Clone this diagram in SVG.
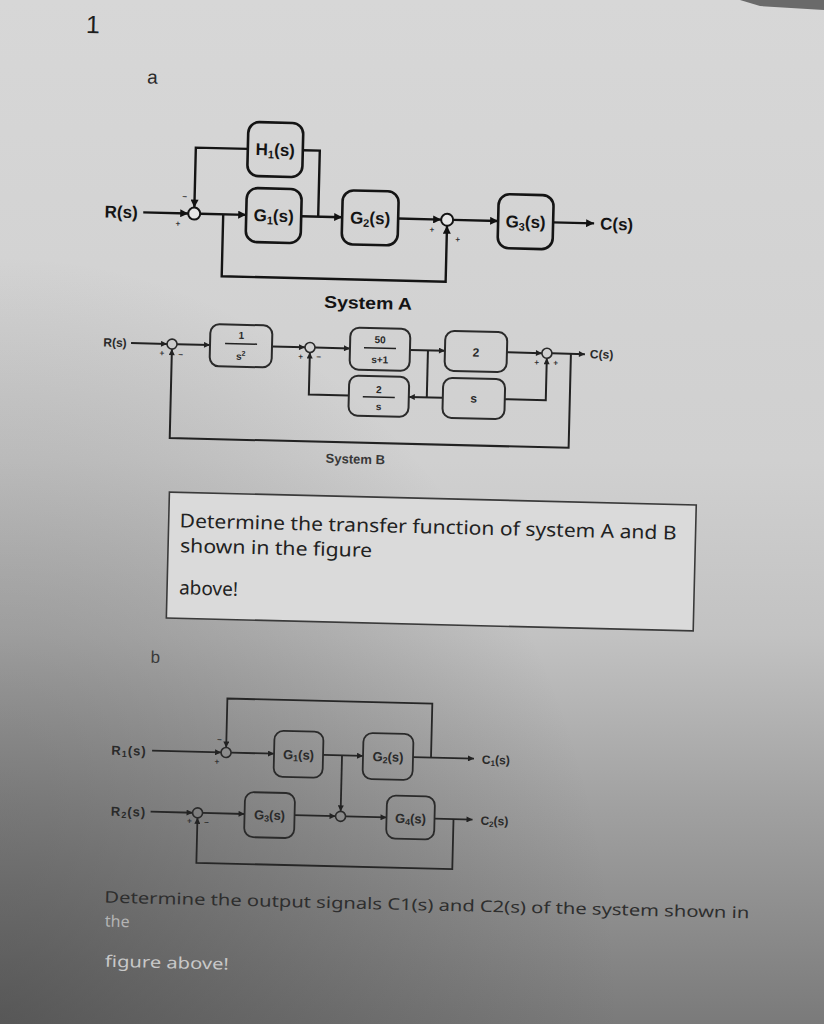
<svg xmlns="http://www.w3.org/2000/svg" width="824" height="1024" viewBox="0 0 824 1024">
<defs>
<linearGradient id="bg" x1="0" y1="0" x2="0" y2="1">
<stop offset="0" stop-color="#d7d7d7"/>
<stop offset="0.45" stop-color="#d0d0d0"/>
<stop offset="0.62" stop-color="#c2c2c2"/>
<stop offset="0.78" stop-color="#a2a2a2"/>
<stop offset="1" stop-color="#7a7a7a"/>
</linearGradient>
<radialGradient id="shade" cx="0" cy="1" r="0.75">
<stop offset="0" stop-color="#3a3a3a" stop-opacity="0.55"/>
<stop offset="1" stop-color="#3a3a3a" stop-opacity="0"/>
</radialGradient>
<marker id="ah" viewBox="0 0 10 10" refX="10" refY="5" markerWidth="9" markerHeight="8" markerUnits="userSpaceOnUse" orient="auto"><path d="M0,0 L10,5 L0,10 z" fill="#111"/></marker>
<marker id="ahs" viewBox="0 0 10 10" refX="10" refY="5" markerWidth="7" markerHeight="6" markerUnits="userSpaceOnUse" orient="auto"><path d="M0,0 L10,5 L0,10 z" fill="#222"/></marker>
<style>
.blkA{fill:none;stroke:#141414;stroke-width:2.6}
.blkB{fill:none;stroke:#2a2a2a;stroke-width:2}
.blkb{fill:none;stroke:#2a2a2a;stroke-width:1.8}
.sum{fill:#e6e6e6;stroke:#141414;stroke-width:2}
.sumb{fill:none;stroke:#2a2a2a;stroke-width:1.6}
.lnA{fill:none;stroke:#141414;stroke-width:2.4}
.lnB{fill:none;stroke:#222;stroke-width:2}
.lnb{fill:none;stroke:#262626;stroke-width:1.8}
.tA{font-family:"Liberation Sans",Arial,sans-serif;font-weight:bold;font-size:17px;fill:#141414}
.tB{font-family:"Liberation Sans",Arial,sans-serif;font-weight:bold;font-size:12px;fill:#2a2a2a}
.fr{font-family:"Liberation Sans",Arial,sans-serif;font-weight:bold;font-size:10px;fill:#2a2a2a}
.tb{font-family:"Liberation Sans",Arial,sans-serif;font-weight:bold;font-size:13px;fill:#2a2a2a}
.sg{font-family:"Liberation Sans",Arial,sans-serif;font-weight:bold;font-size:8px;fill:#333}
.tx{font-family:"Noto Sans","Liberation Sans",sans-serif;font-size:19px;fill:#222}
.tq{font-family:"Noto Sans","Liberation Sans",sans-serif;font-size:16px}
</style>
</defs>
<rect width="824" height="1024" fill="url(#bg)"/>
<rect width="824" height="1024" fill="url(#shade)"/>
<polygon points="740,0 824,0 824,10 760,6" fill="#6a6a6a"/>
<g transform="rotate(1.4 412 512)">
<text x="81" y="41" font-family="Liberation Sans,Arial,sans-serif" font-size="25" fill="#1e1e1e" text-anchor="middle">1</text>
<text x="142" y="90" font-family="Liberation Sans,Arial,sans-serif" font-size="19" fill="#2a2a2a" text-anchor="middle">a</text>

<!-- System A -->
<g id="connectorsA">
<path class="lnA" d="M136,219 H181" marker-end="url(#ah)"/>
<path class="lnA" d="M193,219 H239" marker-end="url(#ah)"/>
<path class="lnA" d="M239,153 H187 V213" marker-end="url(#ah)"/>
<path class="lnA" d="M294,153 H311 V219"/>
<path class="lnA" d="M294,219 H335" marker-end="url(#ah)"/>
<path class="lnA" d="M391,219 H434" marker-end="url(#ah)"/>
<path class="lnA" d="M216,219 V281 H440 V225" marker-end="url(#ah)"/>
<path class="lnA" d="M446,219 H491" marker-end="url(#ah)"/>
<path class="lnA" d="M546,219 H587" marker-end="url(#ah)"/>
</g>
<g id="A-R"><text class="tA" x="114" y="225" text-anchor="middle">R(s)</text></g>
<g id="A-sum1"><circle class="sum" cx="187" cy="219" r="6"/><text class="sg" x="171" y="232" text-anchor="middle">+</text><text class="sg" x="177" y="205" text-anchor="middle">−</text></g>
<g id="A-H1"><rect class="blkA" x="239" y="126" width="55" height="54" rx="11"/><text class="tA" x="266.5" y="159" text-anchor="middle">H<tspan style="font-size:11px" dy="3">1</tspan><tspan dy="-3">(s)</tspan></text></g>
<g id="A-G1"><rect class="blkA" x="239" y="192" width="55" height="54" rx="11"/><text class="tA" x="266.5" y="225" text-anchor="middle">G<tspan style="font-size:11px" dy="3">1</tspan><tspan dy="-3">(s)</tspan></text></g>
<g id="A-G2"><rect class="blkA" x="335" y="192" width="56" height="54" rx="11"/><text class="tA" x="363" y="225" text-anchor="middle">G<tspan style="font-size:11px" dy="3">2</tspan><tspan dy="-3">(s)</tspan></text></g>
<g id="A-sum2"><circle class="sum" cx="440" cy="219" r="6"/><text class="sg" x="425" y="232" text-anchor="middle">+</text><text class="sg" x="451" y="241" text-anchor="middle">+</text></g>
<g id="A-G3"><rect class="blkA" x="491" y="192" width="55" height="54" rx="11"/><text class="tA" x="518.5" y="225" text-anchor="middle">G<tspan style="font-size:11px" dy="3">3</tspan><tspan dy="-3">(s)</tspan></text></g>
<g id="A-C"><text class="tA" x="593" y="225">C(s)</text></g>
<text class="tA" x="363" y="310" text-anchor="middle" textLength="88" lengthAdjust="spacingAndGlyphs">System A</text>

<!-- System B -->
<g id="connectorsB">
<path class="lnB" d="M127,350 H163" marker-end="url(#ahs)"/>
<path class="lnB" d="M173,350 H206" marker-end="url(#ahs)"/>
<path class="lnB" d="M268,350 H301" marker-end="url(#ahs)"/>
<path class="lnB" d="M311,350 H346" marker-end="url(#ahs)"/>
<path class="lnB" d="M406,350 H441" marker-end="url(#ahs)"/>
<path class="lnB" d="M424,350 V397"/>
<path class="lnB" d="M440,397 H406" marker-end="url(#ahs)"/>
<path class="lnB" d="M346,397 H306 V355" marker-end="url(#ahs)"/>
<path class="lnB" d="M503,350 H538" marker-end="url(#ahs)"/>
<path class="lnB" d="M502,397 H543 V355" marker-end="url(#ahs)"/>
<path class="lnB" d="M548,350 H581" marker-end="url(#ahs)"/>
<path class="lnB" d="M567,350 V444 H168 V355" marker-end="url(#ahs)"/>
</g>
<g id="B-R"><text class="tB" x="111" y="354" text-anchor="middle">R(s)</text></g>
<g id="B-sum1"><circle class="sumb" cx="168" cy="350" r="5"/><text class="sg" x="158" y="362" text-anchor="middle">+</text><text class="sg" x="177" y="363" text-anchor="middle">−</text></g>
<g id="B-b1"><rect class="blkB" x="206" y="329" width="62" height="42" rx="9"/><text class="fr" x="237" y="343" text-anchor="middle">1</text><line x1="221" y1="348" x2="253" y2="348" stroke="#222" stroke-width="1.5"/><text class="fr" x="237" y="364" text-anchor="middle">s<tspan style="font-size:7px" dy="-4">2</tspan></text></g>
<g id="B-sum2"><circle class="sumb" cx="306" cy="350" r="5"/><text class="sg" x="297" y="362" text-anchor="middle">+</text><text class="sg" x="315" y="362" text-anchor="middle">−</text></g>
<g id="B-b2"><rect class="blkB" x="346" y="329" width="60" height="42" rx="9"/><text class="fr" x="376" y="344" text-anchor="middle">50</text><line x1="360" y1="349" x2="392" y2="349" stroke="#222" stroke-width="1.5"/><text class="fr" x="376" y="364" text-anchor="middle">s+1</text></g>
<g id="B-b3"><rect class="blkB" x="346" y="377" width="60" height="40" rx="9"/><text class="fr" x="376" y="394" text-anchor="middle">2</text><line x1="360" y1="398" x2="392" y2="398" stroke="#222" stroke-width="1.5"/><text class="fr" x="376" y="411" text-anchor="middle">s</text></g>
<g id="B-b4"><rect class="blkB" x="441" y="330" width="62" height="40" rx="9"/><text class="tB" x="472" y="355" text-anchor="middle">2</text></g>
<g id="B-b5"><rect class="blkB" x="440" y="377" width="62" height="40" rx="9"/><text class="tB" x="471" y="401" text-anchor="middle">s</text></g>
<g id="B-sum3"><circle class="sumb" cx="543" cy="350" r="5"/><text class="sg" x="533" y="362" text-anchor="middle">+</text><text class="sg" x="552" y="362" text-anchor="middle">+</text></g>
<g id="B-C"><text class="tB" x="586" y="354">C(s)</text></g>
<text class="tB" x="354" y="465" style="font-size:13px;fill:#383838" text-anchor="middle">System B</text>

<!-- Text box -->
<g id="boxA">
<rect x="169" y="498" width="527" height="126" fill="#dadada" stroke="#3a3a3a" stroke-width="1.6"/>
<text class="tx" x="180" y="533" textLength="497" lengthAdjust="spacingAndGlyphs">Determine the transfer function of system A and B</text>
<text class="tx" x="181" y="558" textLength="192" lengthAdjust="spacingAndGlyphs">shown in the figure</text>
<text class="tx" x="181" y="600">above!</text>
</g>
<text x="159" y="669" font-family="Liberation Sans,Arial,sans-serif" font-size="17" fill="#3a3a3a" text-anchor="middle">b</text>

<!-- Part b -->
<g id="connectorsb">
<path class="lnb" d="M158,757 H227" marker-end="url(#ahs)"/>
<path class="lnb" d="M237,757 H280" marker-end="url(#ahs)"/>
<path class="lnb" d="M329,757 H369" marker-end="url(#ahs)"/>
<path class="lnb" d="M348,757 V813" marker-end="url(#ahs)"/>
<path class="lnb" d="M419,757 H480" marker-end="url(#ahs)"/>
<path class="lnb" d="M437,757 V703 H232 V752" marker-end="url(#ahs)"/>
<path class="lnb" d="M158,818 H200" marker-end="url(#ahs)"/>
<path class="lnb" d="M210,818 H252" marker-end="url(#ahs)"/>
<path class="lnb" d="M302,818 H343" marker-end="url(#ahs)"/>
<path class="lnb" d="M353,818 H394" marker-end="url(#ahs)"/>
<path class="lnb" d="M442,818 H480" marker-end="url(#ahs)"/>
<path class="lnb" d="M461,818 V868 H205 V823" marker-end="url(#ahs)"/>
</g>
<g id="b-R1"><text class="tb" x="135" y="762" text-anchor="middle" letter-spacing="1">R<tspan style="font-size:9px" dy="2">1</tspan><tspan dy="-2">(s)</tspan></text></g>
<g id="b-sum1"><circle class="sumb" cx="232" cy="757" r="5"/><text class="sg" x="223" y="769" text-anchor="middle">+</text><text class="sg" x="225" y="747" text-anchor="middle">−</text></g>
<g id="b-G1"><rect class="blkb" x="280" y="734" width="49" height="46" rx="9"/><text class="tb" x="304.5" y="762" text-anchor="middle">G<tspan style="font-size:9px" dy="2">1</tspan><tspan dy="-2">(s)</tspan></text></g>
<g id="b-G2"><rect class="blkb" x="369" y="734" width="50" height="46" rx="9"/><text class="tb" x="394" y="762" text-anchor="middle">G<tspan style="font-size:9px" dy="2">2</tspan><tspan dy="-2">(s)</tspan></text></g>
<g id="b-C1"><text class="tb" x="488" y="762" style="font-size:12px">C<tspan style="font-size:8px" dy="2">1</tspan><tspan dy="-2">(s)</tspan></text></g>
<g id="b-R2"><text class="tb" x="136" y="823" text-anchor="middle" letter-spacing="1">R<tspan style="font-size:9px" dy="2">2</tspan><tspan dy="-2">(s)</tspan></text></g>
<g id="b-sum3"><circle class="sumb" cx="205" cy="818" r="5"/><text class="sg" x="197" y="829" text-anchor="middle">+</text><text class="sg" x="214" y="830" text-anchor="middle">−</text></g>
<g id="b-G3"><rect class="blkb" x="252" y="796" width="50" height="45" rx="9"/><text class="tb" x="277" y="823" text-anchor="middle">G<tspan style="font-size:9px" dy="2">3</tspan><tspan dy="-2">(s)</tspan></text></g>
<g id="b-sum2"><circle class="sumb" cx="348" cy="818" r="5"/></g>
<g id="b-G4"><rect class="blkb" x="394" y="796" width="48" height="43" rx="9"/><text class="tb" x="418" y="823" text-anchor="middle">G<tspan style="font-size:9px" dy="2">4</tspan><tspan dy="-2">(s)</tspan></text></g>
<g id="b-C2"><text class="tb" x="488" y="823" style="font-size:12px">C<tspan style="font-size:8px" dy="2">2</tspan><tspan dy="-2">(s)</tspan></text></g>

<text class="tq" x="114" y="910" fill="#2e2e2e" textLength="645" lengthAdjust="spacingAndGlyphs">Determine the output signals C1(s) and C2(s) of the system shown in</text>
<text class="tq" x="115" y="934" fill="#b4b4b4">the</text>
<text class="tq" x="116" y="974" fill="#c8c8c8" textLength="124" lengthAdjust="spacingAndGlyphs">figure above!</text>
</g>
</svg>
